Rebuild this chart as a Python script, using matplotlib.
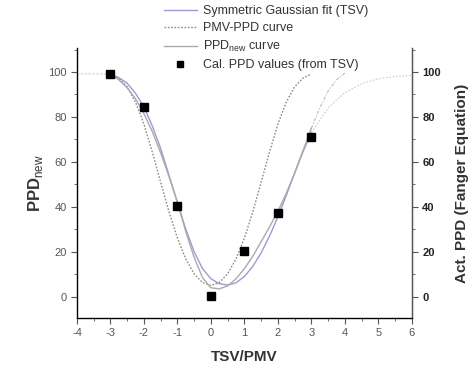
import matplotlib
matplotlib.use("Agg")
import matplotlib.pyplot as plt
from matplotlib.ticker import MultipleLocator
from matplotlib.lines import Line2D

plt.rcParams['font.family'] = ['Liberation Sans', 'DejaVu Sans']
plt.rcParams['mathtext.fontset'] = 'custom'
plt.rcParams['mathtext.rm'] = 'Liberation Sans'
plt.rcParams['mathtext.bf'] = 'Liberation Sans:bold'
plt.rcParams['axes.unicode_minus'] = False

# calculated PPD values from TSV
tsv = [-3, -2, -1, 0, 1, 2, 3]
cal_ppd = [99, 84.5, 40.3, 0.2, 20.5, 37.2, 71]

# curves, step 0.25
x_curve = [-3, -2.75, -2.5, -2.25, -2, -1.75, -1.5, -1.25, -1, -0.75, -0.5,
           -0.25, 0, 0.25, 0.5, 0.75, 1, 1.25, 1.5, 1.75, 2, 2.25, 2.5,
           2.75, 3]
pmv_ppd = [99.1, 97.3, 93.4, 86.6, 76.8, 64.4, 50.9, 37.7, 26.1, 16.8, 10.2,
           6.3, 5.0, 6.3, 10.2, 16.8, 26.1, 37.7, 50.9, 64.4, 76.8, 86.6,
           93.4, 97.3, 99.1]
gauss_fit = [99, 97.5, 95, 90.5, 84.5, 76, 66, 54, 42, 30, 20,
             12.5, 8, 5.8, 5.2, 6.2, 9, 13.5, 19.5, 27, 35.5, 45, 55,
             64.5, 73]
ppd_new = [99, 96.5, 93, 88, 81.5, 73.5, 64, 53.5, 42, 29, 17.5,
           8.5, 4, 3.5, 4.8, 8, 12.5, 18, 24.5, 31, 38, 46, 55,
           65, 75]

# faint extensions
x_gauss_ext = [3, 3.5, 4, 4.5, 5, 5.5, 6]
gauss_ext = [73, 84, 90.8, 94.8, 97, 98, 98.5]
x_new_ext = [3, 3.25, 3.5, 3.75, 4]
new_ext = [75, 84, 91.5, 96.5, 99.5]
x_left_ext = [-4, -3.5, -3]
left_ext = [99.2, 99.2, 99.1]

lavender = '#9c9cd2'
grey = '#aaaaaa'
dotgrey = '#8c8c8c'
spine = '#555555'

fig = plt.figure(figsize=(4.75, 3.69), dpi=100)
ax = fig.add_axes([0.162, 0.138, 0.705, 0.732])

ax.plot(x_left_ext, left_ext, color='#cccccc', lw=0.8, ls=(0, (2, 1.5)))
ax.plot(x_gauss_ext, gauss_ext, color='#cccccc', lw=0.8, ls=(0, (1.5, 1.5)))
ax.plot(x_new_ext, new_ext, color='#bbbbbb', lw=0.8, ls=(0, (3, 1.5, 1, 1.5)))
ax.plot(x_curve, gauss_fit, color=lavender, lw=1.0)
ax.plot(x_curve, pmv_ppd, color=dotgrey, lw=1.0, ls=(0, (1.2, 1.2)))
ax.plot(x_curve, ppd_new, color=grey, lw=1.0)
ax.plot(tsv, cal_ppd, 's', color='black', ms=5.5, zorder=5)

ax.set_xlim(-4, 6)
ax.set_ylim(-9.5, 110.7)
ax.xaxis.set_major_locator(MultipleLocator(1))
ax.xaxis.set_minor_locator(MultipleLocator(0.5))
ax.yaxis.set_minor_locator(MultipleLocator(10))
ax.set_yticks(range(0, 101, 20))

ax.spines['top'].set_visible(False)
for s in ['left', 'right', 'bottom']:
    ax.spines[s].set_color(spine)
    ax.spines[s].set_linewidth(1.0)
ax.tick_params(which='both', direction='out', color=spine, labelcolor='#555555',
               labelsize=8)
ax.tick_params(which='major', length=4)
ax.tick_params(which='minor', length=2.5)

ax.set_xlabel('TSV/PMV', fontsize=11, fontweight='bold', color='#333333',
              labelpad=8)
ax.set_ylabel(r'$\mathbf{PPD}_{\mathregular{new}}$', fontsize=12,
              color='#333333', labelpad=2)

ax2 = ax.twinx()
ax2.set_ylim(-9.5, 110.7)
ax2.set_yticks(range(0, 101, 20))
ax2.yaxis.set_minor_locator(MultipleLocator(10))
ax2.spines['top'].set_visible(False)
ax2.spines['right'].set_color(spine)
ax2.tick_params(which='both', direction='out', color=spine, labelsize=8)
ax2.tick_params(which='major', length=4)
ax2.tick_params(which='minor', length=2.5)
for lab in ax2.get_yticklabels():
    lab.set_fontweight('bold')
    lab.set_color('#222222')
ax2.set_ylabel('Act. PPD (Fanger Equation)', fontsize=11, fontweight='bold',
               color='#333333', labelpad=10)

handles = [
    Line2D([0], [0], color=lavender, lw=1.0),
    Line2D([0], [0], color=dotgrey, lw=1.0, ls=(0, (1.2, 1.2))),
    Line2D([0], [0], color=grey, lw=1.0),
    Line2D([0], [0], marker='s', color='black', ls='none', ms=5),
]
labels = ['Symmetric Gaussian fit (TSV)', 'PMV-PPD curve',
          r'PPD$_{\mathregular{new}}$ curve', 'Cal. PPD values (from TSV)']
leg = fig.legend(handles, labels, loc='upper left',
                 bbox_to_anchor=(0.335, 1.0), frameon=False, fontsize=9,
                 handlelength=2.6, handletextpad=0.5, labelspacing=0.4,
                 borderaxespad=0)
for t in leg.get_texts():
    t.set_color('#333333')

fig.savefig('out.png', dpi=100)
